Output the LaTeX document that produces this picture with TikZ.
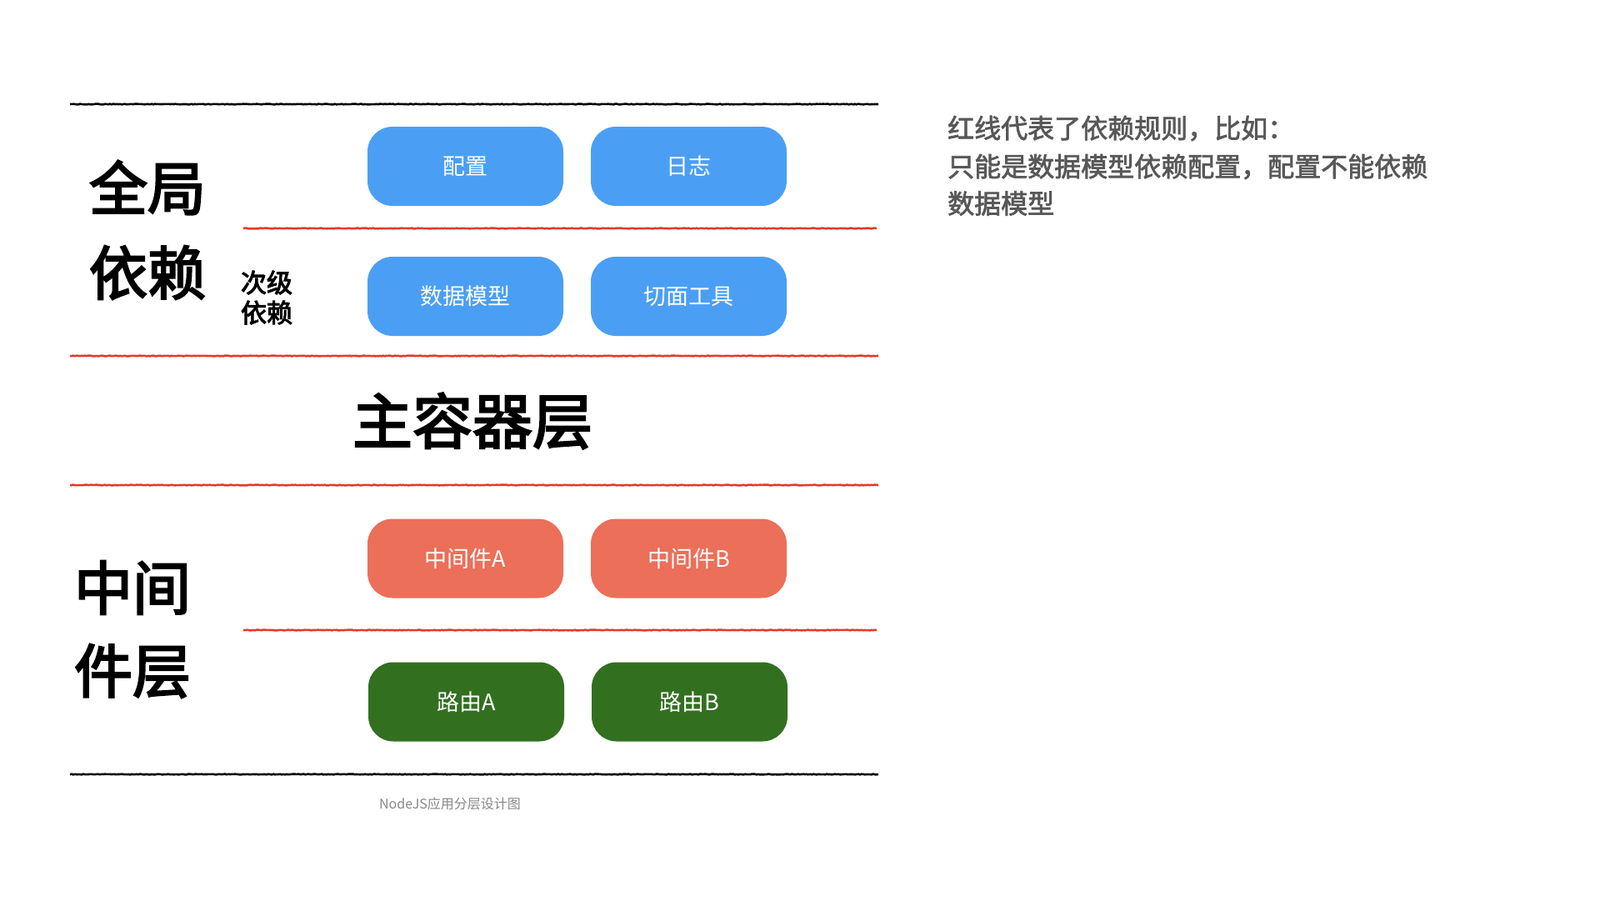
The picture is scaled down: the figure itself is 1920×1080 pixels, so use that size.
\documentclass[tikz,border=0pt]{standalone}
\usepackage{fontspec}
\setmainfont{Noto Sans CJK SC}
\newfontfamily\heavyfont{Noto Sans CJK SC}[FakeBold=3.2]
\newfontfamily\midfont{Noto Sans CJK SC}[FakeBold=2.2]
\usetikzlibrary{decorations.pathmorphing}
\definecolor{boxblue}{RGB}{74,159,245}
\definecolor{boxsalmon}{RGB}{236,111,89}
\definecolor{boxgreen}{RGB}{50,112,32}
\definecolor{rulered}{RGB}{229,57,42}
\definecolor{notegray}{RGB}{88,88,88}
\definecolor{capgray}{RGB}{136,136,136}
\tikzset{
  layerbox/.style={rounded corners=30pt, minimum width=235pt, minimum height=95pt,
    inner sep=0pt, text=white, font=\fontsize{27}{32}\selectfont},
  bluebox/.style={layerbox, fill=boxblue},
  salmonbox/.style={layerbox, fill=boxsalmon},
  greenbox/.style={layerbox, fill=boxgreen},
  roughline/.style={line width=2.6pt, decorate,
    decoration={random steps, segment length=2pt, amplitude=0.35pt}},
  blackrule/.style={roughline, draw=black},
  redrule/.style={roughline, draw=rulered},
  biglabel/.style={inner sep=0pt, font=\heavyfont\fontsize{70}{80}\selectfont},
  smalllabel/.style={inner sep=0pt, font=\heavyfont\fontsize{31}{36}\selectfont},
  notetext/.style={inner sep=0pt, anchor=west, text=notegray, font=\midfont\fontsize{32}{36}\selectfont},
}
\begin{document}
\begin{tikzpicture}[x=1pt,y=-1pt]
\fill[white] (0,0) rectangle (1920,1080);
\useasboundingbox (0,0) rectangle (1920,1080);

% rules
\draw[blackrule] (84,125) -- (1054,125);
\draw[redrule] (292,274) -- (1052,274);
\draw[redrule] (84,427) -- (1054,427);
\draw[redrule] (84,582) -- (1054,582);
\draw[redrule] (292,756) -- (1052,756);
\draw[blackrule] (84,929) -- (1054,929);

% boxes
\node[bluebox] (peizhi) at (558.5,199.5) {配置};
\node[bluebox] (rizhi) at (826.5,199.5) {日志};
\node[bluebox] (shuju) at (558.5,355.5) {数据模型};
\node[bluebox] (qiemian) at (826.5,355.5) {切面工具};
\node[salmonbox] (zja) at (558.5,670) {中间件A};
\node[salmonbox] (zjb) at (826.5,670) {中间件B};
\node[greenbox] (lya) at (559.5,842) {路由A};
\node[greenbox] (lyb) at (827.5,842) {路由B};

% labels
\node[biglabel] (quanju) at (177,225) {全局};
\node[biglabel] (yilai) at (177,327) {依赖};
\node[smalllabel] (ciji) at (320,339) {次级};
\node[smalllabel] (ciyilai) at (320,375) {依赖};
\node[biglabel, font=\heavyfont\fontsize{72}{80}\selectfont] (zhurongqi) at (567,505) {主容器层};
\node[biglabel] (zhongjian) at (159,705) {中间};
\node[biglabel] (jianceng) at (159,805) {件层};

% note
\node[notetext] (note1) at (1137,154) {红线代表了依赖规则，比如：};
\node[notetext] (note2) at (1137,200) {只能是数据模型依赖配置，配置不能依赖};
\node[notetext] (note3) at (1137,244) {数据模型};

% caption
\node[inner sep=0pt, text=capgray, font=\fontsize{16}{20}\selectfont] (caption) at (540,964) {NodeJS应用分层设计图};
\end{tikzpicture}
\end{document}
